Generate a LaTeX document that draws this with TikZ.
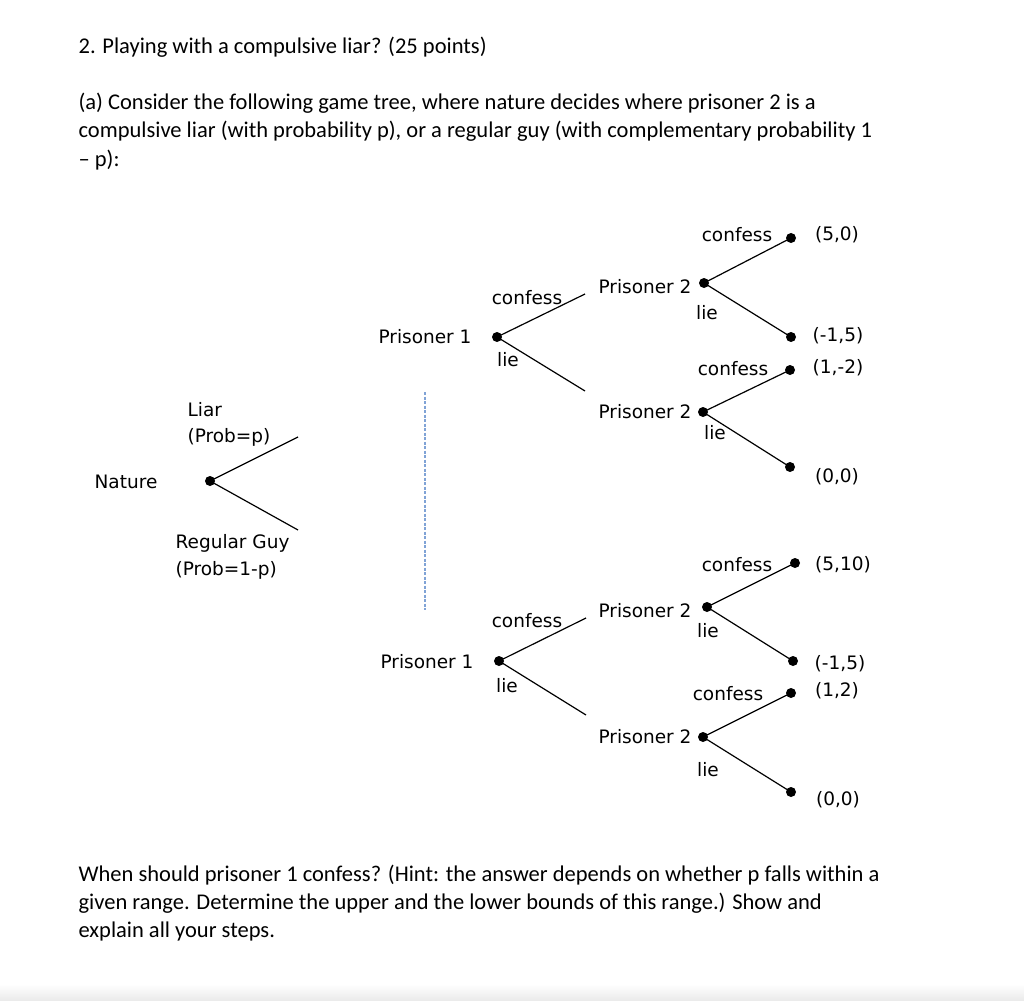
\documentclass[tikz,border=0pt]{standalone}
\usepackage{fontspec}
\setmainfont{Carlito}
\newfontfamily\treefont{DejaVu Sans}
\usetikzlibrary{arrows.meta}

\definecolor{infoblue}{RGB}{128,163,214}

\tikzset{
  gamedot/.style={circle, fill, inner sep=0pt, minimum size=10pt},
  lbl/.style={font=\treefont\fontsize{18.5}{22}\selectfont, inner sep=0pt},
  txt/.style={font=\fontsize{22.5}{28}\selectfont, anchor=west, inner sep=0pt},
}

\begin{document}
\begin{tikzpicture}[x=1pt, y=-1pt, line width=1.2pt]
    \useasboundingbox (0,0) rectangle (1024,1000);
    \shade[top color=white, bottom color=black!8, draw=none] (0,984) rectangle (1024,1000);

    % question text
    \node[txt] (title) at (78,47)  {2. Playing with a compulsive liar? (25 points)};
    \node[txt] (introa) at (78,103) {(a) Consider the following game tree, where nature decides where prisoner 2 is a};
    \node[txt] (introb) at (78,131) {compulsive liar (with probability p), or a regular guy (with complementary probability 1};
    \node[txt] (introc) at (78,160) {-- p):};

    % nature
    \node[lbl] (naturelbl) at (126,482) {Nature};
    \node[gamedot] (nature) at (210,481) {};
    \coordinate (liarend) at (298,437);
    \coordinate (regend) at (298,530);
    \draw (nature.center) -- (liarend);
    \draw (nature.center) -- (regend);
    \node[lbl, anchor=west] (liarlbl) at (187,410) {Liar};
    \node[lbl, anchor=west] (liarprob) at (187,437) {(Prob=p)};
    \node[lbl, anchor=west] (reglbl) at (175,543) {Regular Guy};
    \node[lbl, anchor=west] (regprob) at (175,570) {(Prob=1-p)};

    % information set
    \draw[infoblue, line width=2pt, dash pattern=on 3pt off 1.5pt] (425,392) -- (425,610);

    % liar subtree
    \node[lbl] (ponelbl) at (425,337) {Prisoner 1};
    \node[gamedot] (pone) at (497,337) {};
    \coordinate (poneC) at (585,294);
    \coordinate (poneL) at (585,391);
    \draw (pone.center) -- (poneC);
    \draw (pone.center) -- (poneL);
    \node[lbl] at (527,298) {confess};
    \node[lbl] at (508,360) {lie};

    \node[lbl] (ptwoalbl) at (645,287) {Prisoner 2};
    \node[gamedot] (ptwoa) at (704,283) {};
    \node[gamedot] (endaa) at (791,238) {};
    \node[gamedot] (endab) at (791,337) {};
    \draw (ptwoa.center) -- (endaa.center);
    \draw (ptwoa.center) -- (endab.center);
    \node[lbl] at (737,235) {confess};
    \node[lbl] at (707,313) {lie};
    \node[lbl] at (837,235) {(5,0)};
    \node[lbl] at (838,336) {(-1,5)};

    \node[lbl] (ptwoblbl) at (645,412) {Prisoner 2};
    \node[gamedot] (ptwob) at (703,412) {};
    \node[gamedot] (endba) at (790,370) {};
    \node[gamedot] (endbb) at (790,467) {};
    \draw (ptwob.center) -- (endba.center);
    \draw (ptwob.center) -- (endbb.center);
    \node[lbl] at (733,369) {confess};
    \node[lbl] at (715,433) {lie};
    \node[lbl] at (838,368) {(1,-2)};
    \node[lbl] at (837,477) {(0,0)};

    % regular guy subtree
    \node[lbl] (ptwolbl) at (427,662) {Prisoner 1};
    \node[gamedot] (ptwo) at (499,661) {};
    \coordinate (ptwoC) at (586,618);
    \coordinate (ptwoL) at (586,715);
    \draw (ptwo.center) -- (ptwoC);
    \draw (ptwo.center) -- (ptwoL);
    \node[lbl] at (527,621) {confess};
    \node[lbl] at (507,686) {lie};

    \node[lbl] (ptwoclbl) at (645,611) {Prisoner 2};
    \node[gamedot] (ptwoc) at (707,607) {};
    \node[gamedot] (endca) at (795,563) {};
    \node[gamedot] (endcb) at (793,661) {};
    \draw (ptwoc.center) -- (endca.center);
    \draw (ptwoc.center) -- (endcb.center);
    \node[lbl] at (737,565) {confess};
    \node[lbl] at (708,631) {lie};
    \node[lbl] at (843,565) {(5,10)};
    \node[lbl] at (840,664) {(-1,5)};

    \node[lbl] (ptwodlbl) at (645,737) {Prisoner 2};
    \node[gamedot] (ptwod) at (703,737) {};
    \node[gamedot] (endda) at (791,693) {};
    \node[gamedot] (enddb) at (791,792) {};
    \draw (ptwod.center) -- (endda.center);
    \draw (ptwod.center) -- (enddb.center);
    \node[lbl] at (728,694) {confess};
    \node[lbl] at (708,770) {lie};
    \node[lbl] at (837,691) {(1,2)};
    \node[lbl] at (838,800) {(0,0)};

    % question
    \node[txt] (qa) at (78,875) {When should prisoner 1 confess? (Hint: the answer depends on whether p falls within a};
    \node[txt] (qb) at (78,903) {given range. Determine the upper and the lower bounds of this range.) Show and};
    \node[txt] (qc) at (78,931) {explain all your steps.};
\end{tikzpicture}
\end{document}
